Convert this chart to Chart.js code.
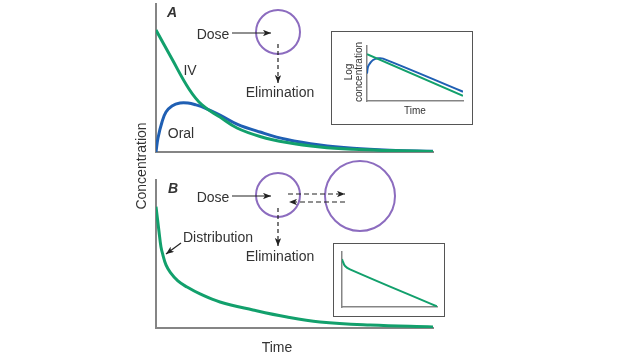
<!DOCTYPE html>
<html>
<head>
<meta charset="utf-8">
<script src="https://cdn.jsdelivr.net/npm/chart.js@4"></script>
<style>
  body { margin: 0; background: #fff; }
  #stage { position: relative; width: 623px; height: 359px; overflow: hidden; font-family: "Liberation Sans", Arial, sans-serif; color: #333; }
  .box { position: absolute; }
  .lbl { position: absolute; transform: translate(-50%, -50%); font-size: 14px; line-height: 1; white-space: nowrap; }
  .small { font-size: 10px; }
  .panel { font-weight: bold; font-style: italic; }
  .inset { position: absolute; border: 1.5px solid #555; box-sizing: border-box; }
  svg { position: absolute; left: 0; top: 0; }
</style>
</head>
<body>
<div id="stage">
  <div class="inset" style="left:331px;top:31px;width:142px;height:94px"></div>
  <div class="inset" style="left:333px;top:243px;width:112px;height:74px"></div>

  <div class="box" style="left:152px;top:0px"><canvas id="chartA" width="285" height="156"></canvas></div>
  <div class="box" style="left:152px;top:176px"><canvas id="chartB" width="285" height="156"></canvas></div>
  <div class="box" style="left:363px;top:42px"><canvas id="insetA" width="104" height="63"></canvas></div>
  <div class="box" style="left:338px;top:248px"><canvas id="insetB" width="103" height="63"></canvas></div>

  <svg width="623" height="359">
    <defs>
      <marker id="head" viewBox="0 0 10 8" refX="10" refY="4" markerWidth="8" markerHeight="6.4" markerUnits="userSpaceOnUse" orient="auto">
        <path d="M0,0 L10,4 L0,8 L2.5,4 z" fill="#222"/>
      </marker>
    </defs>
    <g fill="none" stroke="#8c6cbf" stroke-width="2">
      <circle cx="278" cy="32" r="22"/>
      <circle cx="278" cy="195" r="22"/>
      <circle cx="360" cy="196" r="35"/>
    </g>
    <g stroke="#222" stroke-width="1.2" fill="none">
      <line x1="232" y1="33" x2="271" y2="33" marker-end="url(#head)"/>
      <line x1="278" y1="44" x2="278" y2="83" stroke-dasharray="4,3" marker-end="url(#head)"/>
      <line x1="232" y1="196" x2="271" y2="196" marker-end="url(#head)"/>
      <line x1="278" y1="208" x2="278" y2="246" stroke-dasharray="4,3" marker-end="url(#head)"/>
      <line x1="288" y1="194" x2="345" y2="194" stroke-dasharray="5,3" marker-end="url(#head)"/>
      <line x1="345" y1="202" x2="289" y2="202" stroke-dasharray="5,3" marker-end="url(#head)"/>
      <line x1="181" y1="243" x2="166" y2="254" marker-end="url(#head)"/>
    </g>
  </svg>

  <div class="lbl panel" style="left:172px;top:12px">A</div>
  <div class="lbl" style="left:213px;top:34px">Dose</div>
  <div class="lbl" style="left:280px;top:92px">Elimination</div>
  <div class="lbl" style="left:190px;top:70px">IV</div>
  <div class="lbl" style="left:181px;top:133px">Oral</div>
  <div class="lbl small" style="left:354px;top:72px;transform:translate(-50%,-50%) rotate(-90deg);text-align:center;line-height:10px">Log<br>concentration</div>
  <div class="lbl small" style="left:415px;top:111px">Time</div>

  <div class="lbl panel" style="left:173px;top:188px">B</div>
  <div class="lbl" style="left:213px;top:197px">Dose</div>
  <div class="lbl" style="left:280px;top:256px">Elimination</div>
  <div class="lbl" style="left:218px;top:237px">Distribution</div>

  <div class="lbl" style="left:141px;top:166px;transform:translate(-50%,-50%) rotate(-90deg)">Concentration</div>
  <div class="lbl" style="left:277px;top:347px">Time</div>
</div>

<script>
// panel A: IV bolus vs oral dose
const ivTime = [0, 0.578, 1.191, 1.661, 2.31, 2.924, 3.755, 4.729, 5.921, 7.112, 8.448, 10];
const ivConc = [82.4, 62.8, 42.6, 31.8, 23.6, 16.2, 10.5, 6.4, 3.4, 1.8, 0.95, 0.34];
const oralTime = [0, 0.072, 0.217, 0.361, 0.578, 0.866, 1.155, 1.444, 1.769, 2.31, 2.924, 3.755, 4.729, 5.921, 7.112, 8.448, 10];
const oralConc = [0, 9.5, 20.3, 27.0, 31.1, 33.1, 33.1, 31.8, 29.7, 25.0, 18.9, 13.5, 8.4, 4.7, 2.5, 1.2, 0.47];

// inset A: log scale
const logIvTime = [0, 10];
const logIvConc = [8.5, 0.96];
const logOralTime = [0, 0.1, 0.31, 0.63, 1.15, 1.67, 10];
const logOralConc = [5.0, 6.2, 6.85, 7.45, 7.76, 7.71, 1.69];

// panel B: two compartment
const distTime = [0, 0.11, 0.18, 0.25, 0.36, 0.51, 0.79, 1.12, 1.59, 2.31, 3.5, 4.73, 5.92, 7.73, 10];
const distConc = [82, 64.9, 54.7, 49.3, 42.6, 37.8, 31.8, 27.7, 23.0, 17.6, 12.2, 7.4, 4.1, 2.0, 0.7];

// inset B
const logDistTime = [0, 0.11, 0.32, 0.84, 10];
const logDistConc = [8.7, 8.18, 7.45, 6.85, 0.1];

const green = '#12a06c';
const blue = '#1f5fb3';

function pts(xs, ys) {
  return xs.map((x, i) => ({ x: x, y: ys[i] }));
}

function axisOpts(max, w) {
  return {
    type: 'linear', min: 0, max: max,
    ticks: { display: false },
    grid: { display: false, drawTicks: false, tickLength: 0 },
    border: { display: true, color: '#858585', width: w }
  };
}

function makeChart(id, datasets, ymax, axisW) {
  return new Chart(document.getElementById(id), {
    type: 'line',
    data: { datasets: datasets },
    options: {
      responsive: false,
      animation: false,
      layout: { padding: 4 },
      plugins: { legend: { display: false }, tooltip: { enabled: false } },
      elements: { point: { radius: 0 }, line: { tension: 0.4 } },
      scales: { x: axisOpts(10, axisW), y: axisOpts(ymax, axisW) }
    }
  });
}

makeChart('chartA', [
  { data: pts(ivTime, ivConc), borderColor: green, borderWidth: 3 },
  { data: pts(oralTime, oralConc), borderColor: blue, borderWidth: 3 }
], 100, 2);

makeChart('chartB', [
  { data: pts(distTime, distConc), borderColor: green, borderWidth: 3 }
], 100, 2);

makeChart('insetA', [
  { data: pts(logIvTime, logIvConc), borderColor: green, borderWidth: 2, tension: 0 },
  { data: pts(logOralTime, logOralConc), borderColor: blue, borderWidth: 2 }
], 10, 1.5);

makeChart('insetB', [
  { data: pts(logDistTime, logDistConc), borderColor: green, borderWidth: 2 }
], 10, 1.5);
</script>
</body>
</html>
